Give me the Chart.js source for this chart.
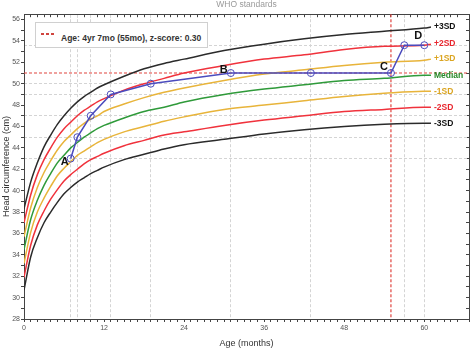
<!DOCTYPE html>
<html>
<head>
<meta charset="utf-8">
<script src="https://cdn.jsdelivr.net/npm/chart.js@4.4.1/dist/chart.umd.min.js"></script>
<style>
  html, body { margin: 0; padding: 0; background: #fff; }
  #wrap { position: relative; width: 474px; height: 351px; }
  #legend {
    position: absolute; left: 35px; top: 22px; width: 171px; height: 24px;
    border: 1px solid #d0d0d0; background: #fff;
    font: bold 8.5px "Liberation Sans", Arial, sans-serif; color: #333;
  }
  #legend .swatch {
    position: absolute; left: 5px; top: 10px; width: 14px; height: 1.5px;
    background: repeating-linear-gradient(90deg, #d0453f 0 3px, transparent 3px 5px);
  }
  #legend .text { position: absolute; left: 25px; top: 10px; line-height: 11px; white-space: nowrap; }
</style>
</head>
<body>
<div id="wrap">
  <canvas id="hcChart" width="474" height="351"></canvas>
  <div id="legend"><span class="swatch"></span><span class="text" id="legendText"></span></div>
</div>
<script>
// WHO head circumference-for-age (boys)
const months = [0, 1, 2, 3, 4, 5, 6, 7, 8, 9, 10, 11, 12, 15, 18, 21, 24, 30, 36, 42, 48, 54, 60, 61];
const sdPlus3  = [38.3, 40.8, 42.6, 44.1, 45.2, 46.2, 47.0, 47.7, 48.3, 48.8, 49.2, 49.6, 49.9, 50.7, 51.4, 51.9, 52.3, 53.1, 53.7, 54.2, 54.6, 54.9, 55.2, 55.3];
const sdPlus2  = [37.0, 39.6, 41.5, 42.9, 44.0, 45.0, 45.8, 46.4, 47.0, 47.5, 47.9, 48.3, 48.6, 49.4, 50.0, 50.5, 51.0, 51.7, 52.3, 52.7, 53.2, 53.5, 53.6, 53.7];
const sdPlus1  = [35.7, 38.4, 40.3, 41.7, 42.8, 43.8, 44.6, 45.2, 45.8, 46.3, 46.7, 47.0, 47.4, 48.1, 48.7, 49.2, 49.6, 50.3, 50.9, 51.3, 51.7, 52.0, 52.2, 52.3];
const median   = [34.5, 37.3, 39.1, 40.5, 41.6, 42.6, 43.3, 44.0, 44.5, 45.0, 45.4, 45.8, 46.1, 46.8, 47.4, 47.8, 48.3, 49.0, 49.5, 49.9, 50.3, 50.5, 50.8, 50.8];
const sdMinus1 = [33.2, 36.1, 38.0, 39.3, 40.4, 41.4, 42.1, 42.7, 43.3, 43.7, 44.1, 44.5, 44.8, 45.5, 46.0, 46.5, 46.9, 47.6, 48.0, 48.4, 48.8, 49.1, 49.3, 49.3];
const sdMinus2 = [31.9, 34.9, 36.8, 38.1, 39.2, 40.1, 40.9, 41.5, 42.0, 42.5, 42.9, 43.2, 43.5, 44.2, 44.7, 45.2, 45.5, 46.1, 46.6, 47.0, 47.4, 47.6, 47.8, 47.8];
const sdMinus3 = [30.7, 33.8, 35.6, 37.0, 38.0, 38.9, 39.7, 40.3, 40.8, 41.2, 41.6, 41.9, 42.2, 42.9, 43.4, 43.9, 44.3, 44.8, 45.3, 45.7, 46.0, 46.2, 46.3, 46.3];
const curveNames = ['+3SD', '+2SD', '+1SD', 'Median', '-1SD', '-2SD', '-3SD'];

// patient measurements
const visitAge = [7, 8, 10, 13, 19, 31, 43, 55, 57, 60];
const visitHC  = [43, 45, 47, 49, 50, 51, 51, 51, 53.6, 53.6];
const visitTags = ['A', '', '', '', '', 'B', '', 'C', '', 'D'];

// current age marker
const markerAge = 55;
const markerHC = 51;
const markerText = 'Age: 4yr 7mo (55mo), z-score: 0.30';

// axes
const xMin = 0, xMax = 66.7;
const yMin = 28, yMax = 56.5;
const yTickValues = [28, 29, 30, 31, 32, 33, 34, 35, 36, 37, 38, 39, 40, 41, 42, 43, 44, 45, 46, 47, 48, 49, 50, 51, 52, 53, 54, 55, 56];
const yTickLabels = ['28', '', '30', '', '32', '', '34', '', '36', '', '38', '', '40', '', '42', '', '44', '', '46', '', '48', '', '50', '', '52', '', '54', '', '56'];

document.getElementById('legendText').textContent = markerText;

const curveColors = ['#2b2b2b', '#f0323c', '#e8b43a', '#2f9a3a', '#e8b43a', '#f0323c', '#2b2b2b'];
const labelColors = ['#111111', '#e8262e', '#dba521', '#2a8a2a', '#dba521', '#e8262e', '#111111'];
const curveValues = [sdPlus3, sdPlus2, sdPlus1, median, sdMinus1, sdMinus2, sdMinus3];

const datasets = [{
  label: 'Measurements',
  data: visitAge.map((a, i) => ({ x: a, y: visitHC[i] })),
  tags: visitTags,
  borderColor: '#4b4bbd',
  borderWidth: 1.5,
  pointRadius: 3.5,
  pointBorderWidth: 1,
  pointBorderColor: '#4b4bbd',
  pointBackgroundColor: 'rgba(255,255,255,0)',
  tension: 0,
  fill: false
}];

curveValues.forEach((vals, k) => {
  datasets.push({
    label: curveNames[k],
    endLabel: curveNames[k],
    labelColor: labelColors[k],
    data: months.map((m, i) => ({ x: m, y: vals[i] })),
    borderColor: curveColors[k],
    borderWidth: 1.5,
    pointRadius: 0,
    cubicInterpolationMode: 'monotone',
    fill: false
  });
});

// red dashed cross-hair at the current age / head circumference
const markerLines = {
  id: 'markerLines',
  beforeDatasetsDraw(chart) {
    const { ctx, chartArea: a, scales } = chart;
    const px = scales.x.getPixelForValue(markerAge);
    const py = scales.y.getPixelForValue(markerHC);
    ctx.save();
    ctx.strokeStyle = '#e0443e';
    ctx.lineWidth = 1.2;
    ctx.setLineDash([3, 2]);
    ctx.beginPath();
    ctx.moveTo(px, a.top);
    ctx.lineTo(px, a.bottom);
    ctx.moveTo(a.left, py);
    ctx.lineTo(a.right, py);
    ctx.stroke();
    ctx.restore();
  }
};

// text at the end of each reference curve
const endLabels = {
  id: 'endLabels',
  afterDatasetsDraw(chart) {
    const ctx = chart.ctx;
    ctx.save();
    ctx.font = 'bold 8.5px "Liberation Sans", Arial, sans-serif';
    ctx.textBaseline = 'middle';
    ctx.textAlign = 'left';
    chart.data.datasets.forEach((ds, i) => {
      if (!ds.endLabel) return;
      const pts = chart.getDatasetMeta(i).data;
      const p = pts[pts.length - 1];
      ctx.fillStyle = ds.labelColor;
      ctx.fillText(ds.endLabel, p.x + 3, p.y);
    });
    ctx.restore();
  }
};

// A / B / C / D next to measurement points
const tagOffsets = { A: [-6, 3], B: [-7, -3], C: [-7, -6], D: [-6, -9] };
const pointTags = {
  id: 'pointTags',
  afterDatasetsDraw(chart) {
    const ctx = chart.ctx;
    ctx.save();
    ctx.font = 'bold 11px "Liberation Sans", Arial, sans-serif';
    ctx.textBaseline = 'middle';
    ctx.textAlign = 'center';
    ctx.fillStyle = '#111';
    chart.data.datasets.forEach((ds, i) => {
      if (!ds.tags) return;
      chart.getDatasetMeta(i).data.forEach((p, j) => {
        const t = ds.tags[j];
        if (!t) return;
        const off = tagOffsets[t];
        ctx.fillText(t, p.x + off[0], p.y + off[1]);
      });
    });
    ctx.restore();
  }
};

const tickFont = { family: '"Liberation Sans", Arial, sans-serif', size: 7 };
const titleFont = { family: '"Liberation Sans", Arial, sans-serif', size: 9 };
const gridGray = '#d4d4d4';

new Chart(document.getElementById('hcChart'), {
  type: 'line',
  data: { datasets: datasets },
  plugins: [markerLines, endLabels, pointTags],
  options: {
    responsive: false,
    animation: false,
    devicePixelRatio: 1,
    layout: { padding: 0 },
    plugins: {
      legend: { display: false },
      tooltip: { enabled: false },
      title: {
        display: true,
        fullSize: false,
        text: 'WHO standards',
        color: '#9a9a9a',
        font: { family: '"Liberation Sans", Arial, sans-serif', size: 8.5, weight: 'normal' },
        padding: { top: 0, bottom: 1 }
      }
    },
    scales: {
      x: {
        type: 'linear', position: 'bottom', min: xMin, max: xMax,
        afterFit: s => { s.height = 32; },
        ticks: {
          stepSize: 1, autoSkip: false, maxRotation: 0, padding: 2,
          font: tickFont, color: '#555',
          callback: v => (v % 12 === 0 ? v : '')
        },
        grid: { drawOnChartArea: false, tickLength: 3, color: '#444' },
        border: { color: '#444' },
        title: { display: true, text: 'Age (months)', font: titleFont, color: '#333', padding: { top: 2, bottom: 2 } }
      },
      xTop: {
        type: 'linear', position: 'top', min: xMin, max: xMax,
        afterFit: s => { s.height = 3; },
        ticks: { display: false, stepSize: 1, autoSkip: false },
        grid: { drawOnChartArea: false, tickLength: -3, color: '#444' },
        border: { color: '#444' }
      },
      y: {
        type: 'linear', position: 'left', min: yMin, max: yMax,
        afterFit: s => { s.width = 24; },
        afterBuildTicks: s => { s.ticks = yTickValues.map(v => ({ value: v })); },
        ticks: {
          autoSkip: false, padding: 1,
          font: tickFont, color: '#555',
          callback: (v, i) => yTickLabels[i]
        },
        grid: { drawOnChartArea: false, tickLength: 3, color: '#444' },
        border: { color: '#444' },
        title: { display: true, text: 'Head circumference (cm)', font: titleFont, color: '#333', padding: { top: 1, bottom: 0 } }
      },
      yRight: {
        type: 'linear', position: 'right', min: yMin, max: yMax,
        afterFit: s => { s.width = 4; },
        afterBuildTicks: s => { s.ticks = yTickValues.map(v => ({ value: v })); },
        ticks: { display: false, autoSkip: false },
        grid: { drawOnChartArea: false, tickLength: -3, color: '#444' },
        border: { color: '#444' }
      },
      xGrid: {
        type: 'linear', position: 'bottom', min: xMin, max: xMax,
        afterFit: s => { s.height = 0; },
        afterBuildTicks: s => { s.ticks = visitAge.filter(v => v !== markerAge).map(v => ({ value: v })); },
        ticks: { display: false },
        grid: { color: gridGray, drawTicks: false },
        border: { display: false, dash: [3, 2] }
      },
      yGrid: {
        type: 'linear', position: 'left', min: yMin, max: yMax,
        afterFit: s => { s.width = 0; },
        afterBuildTicks: s => { s.ticks = visitHC.filter(v => v !== markerHC).map(v => ({ value: v })); },
        ticks: { display: false },
        grid: { color: gridGray, drawTicks: false },
        border: { display: false, dash: [3, 2] }
      }
    }
  }
});
</script>
</body>
</html>
